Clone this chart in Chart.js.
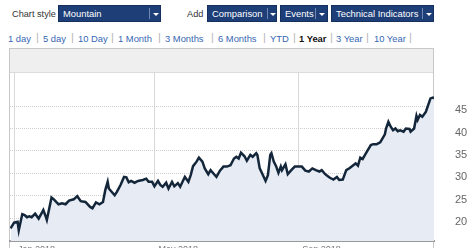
<!DOCTYPE html>
<html>
<head>
<meta charset="utf-8">
<script src="https://cdn.jsdelivr.net/npm/chart.js@4.4.1/dist/chart.umd.min.js"></script>
<style>
  body { margin: 0; width: 474px; height: 248px; overflow: hidden; background: #fff; position: relative;
         font-family: "Liberation Sans", Arial, sans-serif; }
  .lbl { position: absolute; top: 9px; font-size: 9.2px; color: #333; }
  .dd { position: absolute; top: 5px; height: 17px; background: #1e3e78; color: #fff; font-size: 9.4px;
        line-height: 16px; box-sizing: border-box; padding-left: 4px; border: 1px solid #15305f; white-space: nowrap; }
  .dd .sep { position: absolute; top: 2px; bottom: 2px; width: 1px; background: #7088b3; }
  .dd .car { position: absolute; top: 7px; width: 0; height: 0;
             border-left: 3px solid transparent; border-right: 3px solid transparent; border-top: 3px solid #fff; }
  .rng { position: absolute; top: 33px; font-size: 9.4px; color: #3767b4; white-space: nowrap; }
  .rng.on { color: #111; font-weight: bold; }
  .pipe { position: absolute; top: 31px; font-size: 11px; color: #b5b5b5; }
  #frame { position: absolute; left: 9px; top: 48px; width: 425px; height: 220px; box-sizing: border-box;
           border: 1px solid #c8c8c8; border-bottom: none; }
  #band { height: 23px; background: #efefef; border-bottom: 1px solid #dcdcdc; }
  #wrap { position: absolute; left: 0; top: 48px; width: 474px; height: 212px; }
</style>
</head>
<body>
<span class="lbl" style="left:12px">Chart style</span>
<div class="dd" style="left:58px;width:103px">Mountain<span class="sep" style="left:90px"></span><span class="car" style="left:94px"></span></div>
<span class="lbl" style="left:187px">Add</span>
<div class="dd" style="left:207px;width:70px">Comparison<span class="sep" style="left:59px"></span><span class="car" style="left:62px"></span></div>
<div class="dd" style="left:280px;width:48px">Events<span class="sep" style="left:34px"></span><span class="car" style="left:38px"></span></div>
<div class="dd" style="left:331px;width:103px">Technical Indicators<span class="sep" style="left:90px"></span><span class="car" style="left:94px"></span></div>

<span class="rng" style="left:8px">1 day</span><span class="pipe" style="left:36px">|</span>
<span class="rng" style="left:43px">5 day</span><span class="pipe" style="left:71px">|</span>
<span class="rng" style="left:78px">10 Day</span><span class="pipe" style="left:111px">|</span>
<span class="rng" style="left:118px">1 Month</span><span class="pipe" style="left:158px">|</span>
<span class="rng" style="left:165px">3 Months</span><span class="pipe" style="left:211px">|</span>
<span class="rng" style="left:218px">6 Months</span><span class="pipe" style="left:263px">|</span>
<span class="rng" style="left:270px">YTD</span><span class="pipe" style="left:293px">|</span>
<span class="rng on" style="left:299px">1 Year</span><span class="pipe" style="left:330px">|</span>
<span class="rng" style="left:336px">3 Year</span><span class="pipe" style="left:366px">|</span>
<span class="rng" style="left:374px">10 Year</span><span class="pipe" style="left:409px">|</span>

<div id="frame"><div id="band"></div></div>
<div id="wrap"><canvas id="mainChart"></canvas></div>

<script>
// 날짜: 2018-01-01 기준 일수
const days = [-3, 0, 3, 4, 7, 9, 11, 13, 15, 18, 21, 25, 27, 28, 32, 34, 38, 41, 44, 47,
  51, 54, 57, 61, 65, 67, 70, 73, 76, 78, 80, 81, 83, 86, 88, 91, 94, 96, 98, 100,
  103, 106, 110, 113, 115, 118, 120, 123, 125, 127, 130, 132, 135, 137, 140, 142, 144, 146, 149, 151,
  153, 156, 158, 161, 163, 166, 168, 171, 173, 176, 179, 182, 185, 188, 190, 192, 194, 197, 199, 202,
  204, 207, 208, 210, 212, 215, 217, 219, 220, 222, 224, 226, 228, 229, 232, 234, 237, 240, 243, 246,
  249, 252, 255, 258, 261, 263, 266, 268, 270, 273, 276, 278, 281, 284, 287, 290, 292, 294, 296, 298,
  300, 302, 305, 307, 310, 313, 315, 317, 318, 320, 322, 324, 326, 328, 330, 333, 335, 338, 339, 342,
  344, 345, 347, 349, 352, 354, 356, 358, 359];

const prices = [17.7, 19.0, 19.2, 17.3, 20.9, 20.7, 20.2, 20.4, 20.2, 21.0, 19.9, 21.8, 20.4, 19.6, 24.6, 24.2, 23.1, 23.3, 23.1, 23.9,
  24.2, 24.9, 23.8, 23.6, 22.5, 22.2, 23.5, 23.1, 23.6, 26.3, 28.1, 26.6, 26.0, 25.1, 25.9, 27.4, 29.2, 29.1, 28.0, 28.3,
  27.9, 28.3, 28.5, 28.8, 28.1, 28.1, 27.1, 28.3, 27.4, 27.0, 27.9, 26.6, 28.1, 27.1, 27.8, 27.0, 28.1, 29.2, 28.1, 29.6,
  31.6, 32.6, 33.5, 32.6, 31.1, 29.8, 30.7, 29.8, 29.2, 30.6, 31.5, 31.5, 31.8, 33.3, 33.7, 33.3, 34.6, 33.8, 32.8, 34.1,
  33.7, 34.5, 34.1, 31.1, 30.0, 28.3, 29.6, 34.1, 34.5, 32.6, 31.6, 30.1, 31.5, 30.7, 32.0, 29.8, 30.7, 31.5, 31.5, 31.5,
  30.6, 30.4, 31.1, 30.7, 30.4, 30.7, 29.8, 29.4, 29.0, 28.6, 29.2, 28.5, 28.6, 30.7, 31.2, 31.8, 32.2, 31.7, 33.5, 33.2,
  34.1, 35.0, 36.3, 36.5, 36.5, 36.9, 37.8, 38.7, 40.0, 41.5, 40.4, 39.6, 40.0, 39.4, 39.6, 39.3, 40.0, 39.9, 39.3, 40.0,
  42.8, 41.9, 43.0, 42.6, 43.7, 45.2, 46.7, 46.9, 46.7];

const xTickDays = [0, 120, 243];
const xTickLabels = ['Jan 2018', 'May 2018', 'Sep 2018'];
const yTickValues = [20, 25, 30, 35, 40, 45];

Chart.defaults.font.family = '"Liberation Sans", Arial, sans-serif';

// 축 라벨 때문에 생기는 여백 제거
function noPad(axis) {
  axis.paddingTop = 0;
  axis.paddingBottom = 0;
  axis.paddingLeft = 0;
  axis.paddingRight = 0;
}

const ctx = document.getElementById('mainChart').getContext('2d');
new Chart(ctx, {
  type: 'line',
  data: {
    datasets: [{
      data: days.map((d, i) => ({ x: d, y: prices[i] })),
      borderColor: '#14263a',
      borderWidth: 2.5,
      backgroundColor: '#e6ebf4',
      fill: 'start',
      pointRadius: 0,
      tension: 0
    }]
  },
  options: {
    responsive: true,
    maintainAspectRatio: false,
    animation: false,
    layout: { padding: { top: 24, left: 10, right: 0, bottom: 0 } },
    plugins: { legend: { display: false }, tooltip: { enabled: false } },
    scales: {
      x: {
        type: 'linear',
        min: -3.5,
        max: 359,
        afterBuildTicks: axis => { axis.ticks = xTickDays.map(v => ({ value: v })); },
        afterFit: axis => { axis.height = 19; noPad(axis); },
        grid: { color: '#d9d9d9', drawTicks: false },
        border: { color: '#9a9a9a', width: 2 },
        ticks: {
          autoSkip: false,
          maxRotation: 0,
          align: 'start',
          labelOffset: 4,
          padding: 3,
          color: '#777',
          font: { size: 9 },
          callback: v => xTickLabels[xTickDays.indexOf(v)]
        }
      },
      y: {
        position: 'right',
        min: 14.9,
        max: 52.6,
        afterBuildTicks: axis => { axis.ticks = yTickValues.map(v => ({ value: v })); },
        afterFit: axis => { axis.width = 40; noPad(axis); },
        grid: { color: '#cfcfcf', drawTicks: false },
        border: { display: false, dash: [1, 1] },
        ticks: {
          padding: 21,
          labelOffset: 4,
          color: '#666',
          font: { size: 11 }
        }
      }
    }
  }
});
</script>
</body>
</html>
